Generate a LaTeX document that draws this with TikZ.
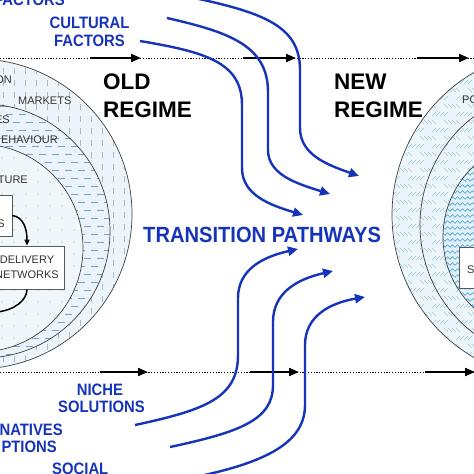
\documentclass[tikz,border=0pt]{standalone}
\usepackage{fontspec}
\setmainfont{Liberation Sans}
\usepackage{graphicx}
\usetikzlibrary{arrows.meta,decorations.pathmorphing}
\definecolor{pblue}{RGB}{22,52,185}
\definecolor{lbgA}{RGB}{238,245,250}
\definecolor{lbgB}{RGB}{234,243,249}
\definecolor{lbgC}{RGB}{240,247,251}
\definecolor{vdashc}{RGB}{165,188,206}
\definecolor{hdashc}{RGB}{120,160,205}
\definecolor{dotc}{RGB}{150,175,195}
\definecolor{rbg}{RGB}{236,245,250}
\definecolor{rbgC}{RGB}{226,241,249}
\definecolor{slashc}{RGB}{160,202,222}
\definecolor{wavec}{RGB}{70,165,215}
\begin{document}
\begin{tikzpicture}[x=1pt,y=-1pt,
  bluelbl/.style={text=pblue,font=\bfseries\fontsize{16.5}{18}\selectfont,inner sep=0pt},
  bigblue/.style={text=pblue,font=\bfseries\fontsize{22}{24}\selectfont,inner sep=0pt},
  regimelbl/.style={font=\bfseries\fontsize{22.5}{24}\selectfont,inner sep=0pt},
  ringlbl/.style={text=black!80,font=\fontsize{11}{12}\selectfont,inner sep=0pt},
  boxlbl/.style={draw=black!65,fill=white,line width=0.7pt,inner sep=0pt},
  ringedge/.style={draw=black!75,line width=0.7pt},
  pathway/.style={draw=pblue,line width=2.4pt,-{Triangle[length=10pt,width=9pt]}},
  timedots/.style={line width=1pt,dash pattern=on 1.2pt off 1.6pt},
  timearrow/.style={line width=2pt,-{Triangle[length=10pt,width=8pt]}},
  cyclearrow/.style={line width=1.5pt,-{Triangle[length=6pt,width=5pt]}}
]
\useasboundingbox (0,0) rectangle (474,474);
\fill[white] (0,0) rectangle (474,474);
\clip (0,0) rectangle (474,474);

% ---------- left (old regime) rings ----------
\fill[lbgA] (-23,214) circle[radius=155pt];
\begin{scope}
  \clip (-23,214) circle[radius=155pt];
  \foreach \x in {3,14,...,135}{\foreach \y in {56,68,...,372}{\draw[vdashc,line width=0.7pt] (\x,\y) -- ++(0,6);}}
\end{scope}
\fill[lbgB] (-17,231) circle[radius=127pt];
\begin{scope}
  \clip (-17,231) circle[radius=127pt];
  \foreach \y in {106,122,...,362}{\foreach \x in {0,13,...,115}{\draw[hdashc,line width=0.7pt] (\x,\y) -- ++(7,0);}}
  \foreach \y in {114,130,...,362}{\foreach \x in {6,19,...,121}{\draw[hdashc,line width=0.7pt] (\x,\y) -- ++(7,0);}}
\end{scope}
\fill[lbgC] (-21,248) circle[radius=104pt];
\begin{scope}
  \clip (-21,248) circle[radius=104pt];
  \foreach \x in {2,14,...,86}{\foreach \y in {146,158,...,354}{\fill[dotc] (\x,\y) circle[radius=0.7pt];}}
\end{scope}
\draw[ringedge] (-23,214) circle[radius=155pt];
\draw[ringedge] (-17,231) circle[radius=127pt];
\draw[ringedge] (-21,248) circle[radius=104pt];

\node[ringlbl,anchor=base east] (lon) at (12,83) {ON};
\node[ringlbl,anchor=base west] (lmarkets) at (18,104) {MARKETS};
\node[ringlbl,anchor=base east] (les) at (10,123) {ES};
\node[ringlbl,anchor=base east] (lbehav) at (58,143) {EHAVIOUR};
\node[ringlbl,anchor=base east] (lture) at (28,183) {TURE};

\node[boxlbl,minimum width=72pt,minimum height=41pt] (boxa) at (-24,215.5) {};
\node[ringlbl,anchor=base east] (boxatext) at (5,227) {S};
\node[boxlbl,minimum width=74pt,minimum height=43pt,align=center,text=black!80,font=\fontsize{11}{15}\selectfont] (boxb) at (27,267.5) {DELIVERY\\NETWORKS};
\coordinate (cycleout) at (-3,312);
\draw[cyclearrow] (boxa.east) .. controls (23,217) and (27,228) .. (boxb.north);
\draw[line width=1.5pt] (boxb.south) .. controls (27,300) and (15,310) .. (cycleout);

% ---------- right (new regime) rings ----------
\fill[rbg] (557,215) circle[radius=165pt];
\begin{scope}
  \clip (557,215) circle[radius=165pt];
  \foreach \y in {52,68,...,380}{\foreach \g in {384,408,...,474}{\foreach \j in {0,4,8,12}{\draw[slashc,line width=0.6pt] (\g+\j,\y) -- ++(4,-4);}}}
  \foreach \y in {60,76,...,388}{\foreach \g in {396,420,...,474}{\foreach \j in {0,4,8,12}{\draw[slashc,line width=0.6pt] (\g+\j,\y-4) -- ++(4,4);}}}
\end{scope}
\fill[rbgC] (540,237) circle[radius=97pt];
\begin{scope}
  \clip (540,237) circle[radius=97pt];
  \foreach \y in {138,144,...,342}{\draw[wavec,line width=0.6pt,decorate,decoration={snake,segment length=5pt,amplitude=1.3pt}] (436,\y) -- (480,\y);}
\end{scope}
\draw[ringedge] (557,215) circle[radius=165pt];
\draw[ringedge] (556,225) circle[radius=136pt];
\draw[ringedge] (540,237) circle[radius=97pt];
\node[ringlbl,anchor=base west] (po) at (462,103) {PO};
\node[boxlbl,minimum width=50pt,minimum height=41pt] (boxr) at (484,267.5) {};
\node[ringlbl,anchor=base west] (boxrtext) at (467,273) {S};

% ---------- time lines ----------
\coordinate (tl0) at (0,58);   \coordinate (tl1) at (474,58);
\coordinate (bl0) at (0,372);  \coordinate (bl1) at (474,372);
\draw[timedots] (tl0) -- (tl1);
\draw[timedots] (bl0) -- (bl1);
\coordinate (ta1s) at (90,58);   \coordinate (ta1e) at (141,58);
\coordinate (ta2s) at (243,58);  \coordinate (ta2e) at (296,58);
\coordinate (ta3s) at (417,58);  \coordinate (ta3e) at (469,58);
\coordinate (ba1s) at (100,372); \coordinate (ba1e) at (148,372);
\coordinate (ba2s) at (250,372); \coordinate (ba2e) at (299,372);
\coordinate (ba3s) at (425,372); \coordinate (ba3e) at (475,372);
\draw[timearrow] (ta1s) -- (ta1e);
\draw[timearrow] (ta2s) -- (ta2e);
\draw[timearrow] (ta3s) -- (ta3e);
\draw[timearrow] (ba1s) -- (ba1e);
\draw[timearrow] (ba2s) -- (ba2e);
\draw[timearrow] (ba3s) -- (ba3e);

% ---------- texts ----------
\node[regimelbl,anchor=base west] (old1) at (103,89) {OLD};
\node[regimelbl,anchor=base west] (old2) at (103,117) {REGIME};
\node[regimelbl,anchor=base west] (new1) at (334,89) {NEW};
\node[regimelbl,anchor=base west] (new2) at (334,117) {REGIME};
\node[bigblue,anchor=base west] (tp) at (143,242) {\scalebox{0.915}[1]{TRANSITION PATHWAYS}};

\node[bluelbl,anchor=base east] (factorsA) at (65,5) {\scalebox{0.9}[1]{FACTORS}};
\node[bluelbl,anchor=base] (cult1) at (89.5,28) {\scalebox{0.9}[1]{CULTURAL}};
\node[bluelbl,anchor=base] (cult2) at (89.5,46) {\scalebox{0.9}[1]{FACTORS}};
\node[bluelbl,anchor=base] (niche1) at (100,395) {\scalebox{0.9}[1]{NICHE}};
\node[bluelbl,anchor=base] (niche2) at (101.5,412) {\scalebox{0.9}[1]{SOLUTIONS}};
\node[bluelbl,anchor=base east] (alt1) at (63,435) {\scalebox{0.9}[1]{NATIVES}};
\node[bluelbl,anchor=base east] (alt2) at (57,452) {\scalebox{0.9}[1]{PTIONS}};
\node[bluelbl,anchor=base west] (soc1) at (52,474) {\scalebox{0.9}[1]{SOCIAL}};

% ---------- pathways ----------
\coordinate (pA0) at (185,-4);  \coordinate (pA1) at (359,176);
\coordinate (pB0) at (167,18);  \coordinate (pB1) at (330,194);
\coordinate (pC0) at (140,41);  \coordinate (pC1) at (303,215);
\coordinate (pD0) at (135,425); \coordinate (pD1) at (298,249);
\coordinate (pE0) at (170,447); \coordinate (pE1) at (333,271);
\coordinate (pF0) at (190,478); \coordinate (pF1) at (365,297);
\draw[pathway] (pA0) .. controls (262,12) and (300,25) .. (300,70) -- (300,128) .. controls (300,155) and (328,165) .. (pA1);
\draw[pathway] (pB0) .. controls (228,32) and (268,45) .. (268,92) -- (268,150) .. controls (268,175) and (298,184) .. (pB1);
\draw[pathway] (pC0) .. controls (205,52) and (242,62) .. (242,105) -- (242,168) .. controls (242,195) and (270,205) .. (pC1);
\draw[pathway] (pD0) .. controls (205,410) and (238,398) .. (238,355) -- (238,298) .. controls (238,270) and (262,257) .. (pD1);
\draw[pathway] (pE0) .. controls (240,432) and (273,420) .. (273,385) -- (273,322) .. controls (273,292) and (298,279) .. (pE1);
\draw[pathway] (pF0) .. controls (272,462) and (305,440) .. (305,405) -- (305,345) .. controls (305,316) and (330,303) .. (pF1);
\end{tikzpicture}
\end{document}
